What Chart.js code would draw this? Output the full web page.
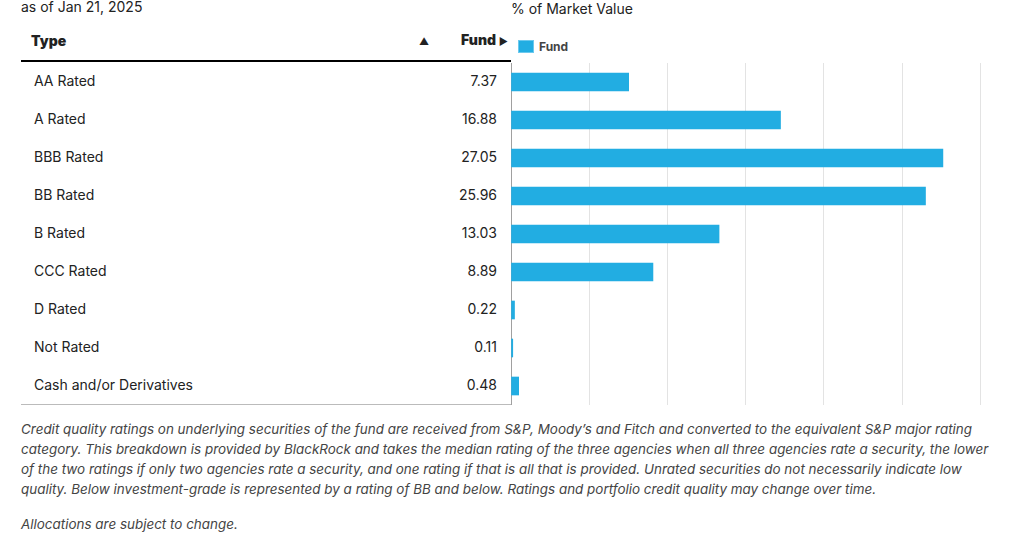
<!DOCTYPE html>
<html>
<head>
<meta charset="utf-8">
<script src="https://cdn.jsdelivr.net/npm/chart.js@4"></script>
<style>
  html, body { margin: 0; padding: 0; background: #fff; }
  body { width: 1033px; height: 544px; position: relative; overflow: hidden; font-family: "Inter", "Noto Sans", sans-serif; color: #222; }
  .abs { position: absolute; white-space: nowrap; }
  #asof { left: 21px; top: -2px; font-size: 14px; line-height: 18px; }
  #mv { left: 511px; top: 0px; font-size: 14px; line-height: 18px; }
  #thead { left: 21px; top: 30px; width: 490px; height: 30px; border-bottom: 2px solid #000; }
  #thType { position: absolute; left: 10px; top: 2px; font-size: 14px; font-weight: 900; line-height: 18px; }
  #thSort { position: absolute; left: 398px; top: 4px; font-size: 10px; line-height: 14px; }
  #thFund { position: absolute; right: 3px; top: 1px; font-size: 14px; font-weight: 900; line-height: 18px; }
  #thFund span { font-size: 10px; font-weight: normal; }
  #rows { left: 21px; top: 62px; width: 490px; border-bottom: 1px solid #bbb; }
  .row { position: relative; height: 38px; font-size: 14px; line-height: 38px; }
  .row .lab { position: absolute; left: 13px; top: 0px; }
  .row .val { position: absolute; right: 14px; top: 0px; }
  #legend { left: 518px; top: 40px; font-size: 12px; font-weight: 700; color: #444; line-height: 14px; }
  #legend i { display: inline-block; width: 14px; height: 11px; background: #22ade2; border: 1px solid #6cc9ee; vertical-align: -2px; margin-right: 5px; }
  #chartWrap { left: 501px; top: 60px; width: 499px; height: 348px; }
  #notes { left: 21px; top: 419px; font-size: 13.45px; line-height: 20px; font-style: italic; color: #444; }
  #alloc { left: 21px; top: 514px; font-size: 13.45px; line-height: 20px; font-style: italic; color: #444; }
</style>
</head>
<body>
<div class="abs" id="asof">as of Jan 21, 2025</div>
<div class="abs" id="mv">% of Market Value</div>
<div class="abs" id="thead">
  <div id="thType">Type</div>
  <div id="thSort">▲</div>
  <div id="thFund">Fund <span>▶</span></div>
</div>
<div class="abs" id="rows"></div>
<div class="abs" id="legend"><i></i>Fund</div>
<div class="abs" id="chartWrap"><canvas id="c"></canvas></div>
<div class="abs" id="notes">Credit quality ratings on underlying securities of the fund are received from S&amp;P, Moody’s and Fitch and converted to the equivalent S&amp;P major rating<br>category. This breakdown is provided by BlackRock and takes the median rating of the three agencies when all three agencies rate a security, the lower<br>of the two ratings if only two agencies rate a security, and one rating if that is all that is provided. Unrated securities do not necessarily indicate low<br>quality. Below investment-grade is represented by a rating of BB and below. Ratings and portfolio credit quality may change over time.</div>
<div class="abs" id="alloc">Allocations are subject to change.</div>
<script>
const categories = ["AA Rated", "A Rated", "BBB Rated", "BB Rated", "B Rated", "CCC Rated", "D Rated", "Not Rated", "Cash and/or Derivatives"];
const fundValues = [7.37, 16.88, 27.05, 25.96, 13.03, 8.89, 0.22, 0.11, 0.48];
const seriesName = "Fund";
const axisMax = 30;
const gridStep = 4.9;

const rowsEl = document.getElementById('rows');
categories.forEach((c, i) => {
  const r = document.createElement('div');
  r.className = 'row';
  r.innerHTML = '<span class="lab"></span><span class="val"></span>';
  r.querySelector('.lab').textContent = c;
  r.querySelector('.val').textContent = fundValues[i].toFixed(2);
  rowsEl.appendChild(r);
});

new Chart(document.getElementById('c'), {
  type: 'bar',
  data: {
    labels: categories,
    datasets: [{
      label: seriesName,
      data: fundValues,
      backgroundColor: '#22ade2',
      borderWidth: 0,
      barThickness: 18
    }]
  },
  options: {
    indexAxis: 'y',
    responsive: true,
    maintainAspectRatio: false,
    animation: false,
    layout: { padding: { left: 10, right: 10, top: 3, bottom: 3 } },
    plugins: { legend: { display: false }, tooltip: { enabled: false } },
    scales: {
      x: {
        min: 0,
        max: axisMax,
        border: { display: false },
        grid: {
          drawTicks: false,
          color: ctx => (ctx.tick && ctx.tick.value === 0) ? '#a0a0a0' : '#e3e3e3',
          lineWidth: 1
        },
        ticks: { display: false, stepSize: gridStep, includeBounds: false }
      },
      y: {
        display: false
      }
    }
  }
});
</script>
</body>
</html>
